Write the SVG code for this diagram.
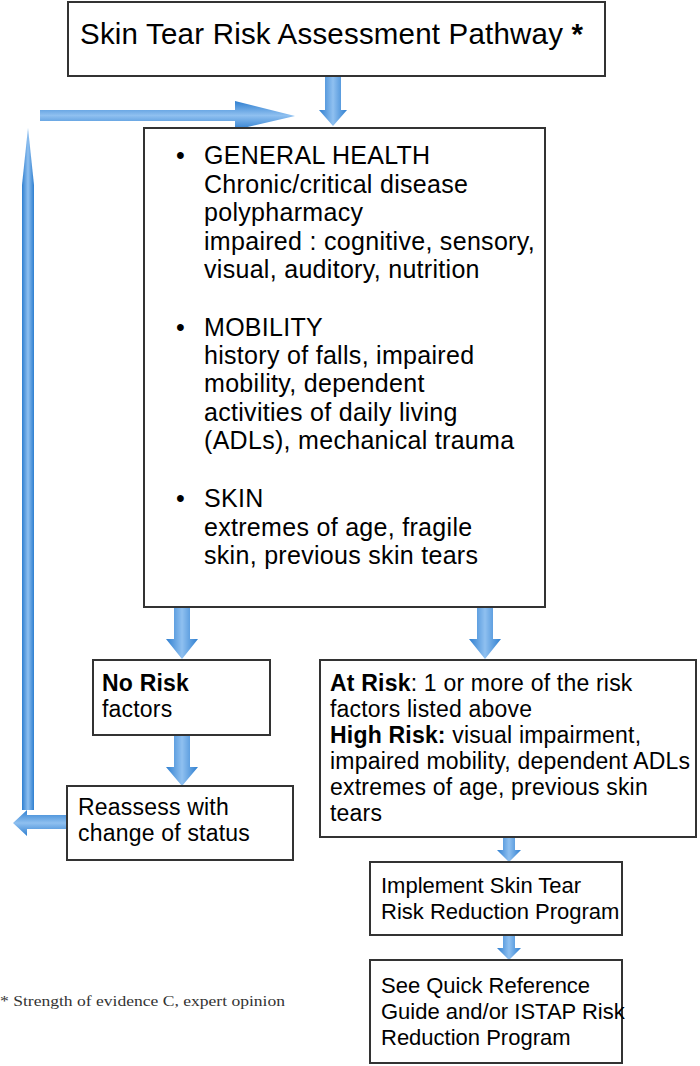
<svg xmlns="http://www.w3.org/2000/svg" width="700" height="1066" viewBox="0 0 700 1066">
<defs>
<linearGradient id="gv" x1="0" y1="0" x2="1" y2="0"><stop offset="0" stop-color="#2f7fd0"/><stop offset="0.5" stop-color="#8fc0f0"/><stop offset="1" stop-color="#2f7fd0"/></linearGradient>
<linearGradient id="gh" x1="0" y1="0" x2="0" y2="1"><stop offset="0" stop-color="#2f7fd0"/><stop offset="0.5" stop-color="#8fc0f0"/><stop offset="1" stop-color="#2f7fd0"/></linearGradient>
<style>
.b{fill:#fff;stroke:#333;stroke-width:2}
text{font-family:"Liberation Sans",Arial,sans-serif;font-size:23px;letter-spacing:0.2px;fill:#000}
.m text{font-size:25px;letter-spacing:0.3px}
.s text{font-size:22px;letter-spacing:0}
.t{font-size:29.5px}
.bo{font-weight:bold}
.v{fill:url(#gv)}
.h{fill:url(#gh)}
.n{font-family:"Liberation Serif",serif;font-size:15px;letter-spacing:0;fill:#333}
</style>
</defs>
<g id="connectors">
<path class="v" d="M325,76h16v34h6l-14,16l-14,-16h6z"/>
<path class="h" d="M40,110h195v-9l60,15l-60,14v-9h-195z"/>
<path class="v" d="M22,810v-625l6,-57l6,57v625z"/>
<path class="h" d="M67,815v14h-40v7l-14,-13l14,-13v5z"/>
<path class="v" d="M174,607h16v32h8l-16,20l-16,-20h8z"/>
<path class="v" d="M477,607h16v32h8l-16,20l-16,-20h8z"/>
<path class="v" d="M174,735h16v32h8l-16,19l-16,-19h8z"/>
<path class="v" d="M503,837h12v13h6l-12,12l-12,-12h6z"/>
<path class="v" d="M503,935h12v13h6l-12,12l-12,-12h6z"/>
</g>
<g id="title"><rect class="b" x="68" y="2" width="537" height="74"/><text class="t" x="80" y="44">Skin Tear Risk Assessment Pathway <tspan class="bo">*</tspan></text></g>
<g id="main" class="m"><rect class="b" x="144" y="128" width="401" height="479"/>
<text x="176" y="164">•</text>
<text x="204" y="164">GENERAL HEALTH</text>
<text x="204" y="193">Chronic/critical disease</text>
<text x="204" y="221">polypharmacy</text>
<text x="204" y="250">impaired : cognitive, sensory,</text>
<text x="204" y="278">visual, auditory, nutrition</text>
<text x="176" y="336">•</text>
<text x="204" y="336">MOBILITY</text>
<text x="204" y="364">history of falls, impaired</text>
<text x="204" y="392">mobility, dependent</text>
<text x="204" y="421">activities of daily living</text>
<text x="204" y="449">(ADLs), mechanical trauma</text>
<text x="176" y="507">•</text>
<text x="204" y="507">SKIN</text>
<text x="204" y="536">extremes of age, fragile</text>
<text x="204" y="564">skin, previous skin tears</text>
</g>
<g id="norisk"><rect class="b" x="93" y="660" width="177" height="75"/><text class="bo" x="102" y="691">No Risk</text><text x="102" y="717">factors</text></g>
<g id="reassess"><rect class="b" x="67" y="786" width="226" height="74"/><text x="78" y="815">Reassess with</text><text x="78" y="841">change of status</text></g>
<g id="atrisk"><rect class="b" x="320" y="660" width="376" height="177"/>
<text x="330" y="691"><tspan class="bo">At Risk</tspan>: 1 or more of the risk</text>
<text x="330" y="717">factors listed above</text>
<text x="330" y="743"><tspan class="bo">High Risk:</tspan> visual impairment,</text>
<text x="330" y="769">impaired mobility, dependent ADLs</text>
<text x="330" y="795">extremes of age, previous skin</text>
<text x="330" y="821">tears</text></g>
<g id="implement" class="s"><rect class="b" x="370" y="862" width="252" height="73"/><text x="381" y="893">Implement Skin Tear</text><text x="381" y="919">Risk Reduction Program</text></g>
<g id="seequick" class="s"><rect class="b" x="370" y="960" width="252" height="103"/><text x="381" y="993">See Quick Reference</text><text x="381" y="1019">Guide and/or ISTAP Risk</text><text x="381" y="1045">Reduction Program</text></g>
<text class="n" x="0" y="1006" textLength="285" lengthAdjust="spacingAndGlyphs">* Strength of evidence C, expert opinion</text>
</svg>
